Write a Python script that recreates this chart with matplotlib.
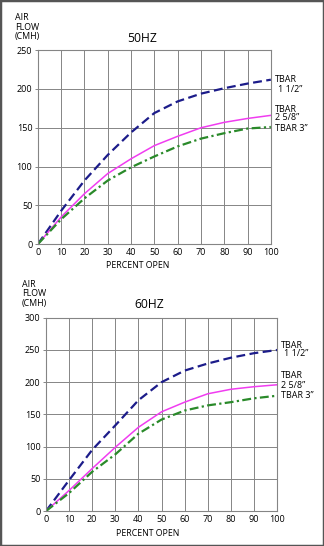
import numpy as np
import matplotlib.pyplot as plt
from matplotlib.patches import Rectangle

plt.rcParams['font.family'] = ['Open Sans', 'DejaVu Sans']

pct_open = [0, 10, 20, 30, 40, 50, 60, 70, 80, 90, 100]

# 50 Hz air flow (CMH)
flow50_tbar_1_5 = [0, 43, 82, 115, 144, 169, 184, 194, 201, 207, 212]
flow50_tbar_2_58 = [0, 35, 65, 91, 110, 127, 139, 150, 157, 162, 166]
flow50_tbar_3 = [0, 32, 59, 82, 99, 113, 126, 136, 143, 149, 151]

# 60 Hz air flow (CMH)
flow60_tbar_1_5 = [0, 48, 95, 133, 172, 200, 218, 229, 238, 245, 250]
flow60_tbar_2_58 = [0, 32, 66, 99, 130, 154, 169, 182, 189, 193, 196]
flow60_tbar_3 = [0, 28, 61, 88, 120, 142, 156, 164, 169, 175, 179]

navy = '#1c1c8a'
magenta = '#f03cf0'
green = '#2a8a2a'
gridc = '#858585'

fig = plt.figure(figsize=(3.24, 5.46), dpi=100)
fig.patches.append(Rectangle((0, 0), 1, 1, transform=fig.transFigure,
                             fill=False, edgecolor='#555555', linewidth=2.5))


def draw_panel(rect, ymax, s1, s2, s3):
    ax = fig.add_axes(rect)
    ax.plot(pct_open, s1, color=navy, lw=1.6, ls=(0, (4, 2)))
    ax.plot(pct_open, s2, color=magenta, lw=1.1, ls='-')
    ax.plot(pct_open, s3, color=green, lw=1.6, ls=(0, (4, 1.5, 1, 1.5)))
    ax.set_xlim(0, 100)
    ax.set_ylim(0, ymax)
    ax.set_xticks(np.arange(0, 101, 10))
    ax.set_yticks(np.arange(0, ymax + 1, 50))
    ax.grid(True, color=gridc, lw=0.7)
    ax.tick_params(axis='x', length=0, labelsize=6.5, pad=3)
    ax.tick_params(axis='y', length=2.5, width=0.7, color=gridc,
                   labelsize=6.5, pad=1.5)
    for sp in ax.spines.values():
        sp.set_color(gridc)
        sp.set_linewidth(0.8)
    return ax


draw_panel([0.117, 0.553, 0.719, 0.355], 250,
           flow50_tbar_1_5, flow50_tbar_2_58, flow50_tbar_3)
draw_panel([0.142, 0.064, 0.713, 0.354], 300,
           flow60_tbar_1_5, flow60_tbar_2_58, flow60_tbar_3)


def px(x, y):
    return x / 324, 1 - y / 546


lab = dict(fontsize=6.5, va='center', ha='left')

# 50 Hz texts
fig.text(*px(15, 27), 'AIR\nFLOW\n(CMH)', fontsize=6.4, va='center', ha='left',
         linespacing=1.05)
fig.text(*px(142, 39), '50HZ', fontsize=8.7, ha='center', va='center')
fig.text(*px(138, 266), 'PERCENT OPEN', fontsize=6.3, ha='center', va='center')
fig.text(*px(275, 79), 'TBAR', **lab)
fig.text(*px(278, 90), '1 1/2\u201d', **lab)
fig.text(*px(275, 109), 'TBAR', **lab)
fig.text(*px(275, 118), '2 5/8\u201d', **lab)
fig.text(*px(275, 128), 'TBAR 3\u201d', **lab)

# 60 Hz texts
fig.text(*px(22, 294), 'AIR\nFLOW\n(CMH)', fontsize=6.4, va='center', ha='left',
         linespacing=1.05)
fig.text(*px(149, 305), '60HZ', fontsize=8.7, ha='center', va='center')
fig.text(*px(148, 533), 'PERCENT OPEN', fontsize=6.3, ha='center', va='center')
fig.text(*px(281, 345), 'TBAR', **lab)
fig.text(*px(284, 354), '1 1/2\u201d', **lab)
fig.text(*px(281, 376), 'TBAR', **lab)
fig.text(*px(281, 385), '2 5/8\u201d', **lab)
fig.text(*px(281, 395), 'TBAR 3\u201d', **lab)

fig.savefig('out.png', dpi=100)
